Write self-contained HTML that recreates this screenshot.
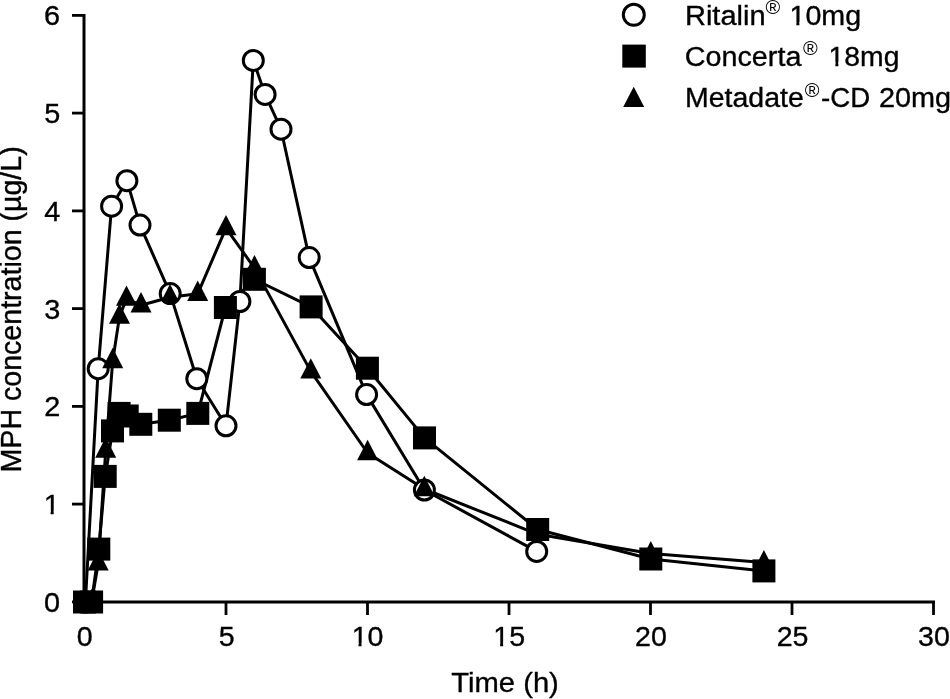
<!DOCTYPE html>
<html><head><meta charset="utf-8"><title>MPH concentration</title>
<style>
html,body{margin:0;padding:0;background:#fff;}
svg{display:block;}
text{font-family:"Liberation Sans",sans-serif;font-size:28px;fill:#000;stroke:#000;stroke-width:0.35;}
</style></head><body>
<svg width="950" height="699" viewBox="0 0 950 699">
<rect width="950" height="699" fill="#fff"/>
<defs><clipPath id="k1"><path d="M-5,-40H90V-3.5H-5Z M6.75,-4H9.65V5H6.75Z M15.6,-4H90V12H15.6Z"/></clipPath></defs>
<g id="axes">
<path d="M84,14 V602 H935" fill="none" stroke="#000" stroke-width="3" stroke-linejoin="miter"/>
<line x1="72" y1="601.9" x2="84" y2="601.9" stroke="#000" stroke-width="2.8"/>
<text transform="translate(44.09,612.10) scale(1.0300,1.0000)">0</text>
<line x1="72" y1="504.1" x2="84" y2="504.1" stroke="#000" stroke-width="2.8"/>
<text transform="translate(43.70,514.25) scale(1.0300,1.0000)" clip-path="url(#k1)">1</text>
<line x1="72" y1="406.4" x2="84" y2="406.4" stroke="#000" stroke-width="2.8"/>
<text transform="translate(44.22,416.40) scale(1.0300,1.0000)">2</text>
<line x1="72" y1="308.6" x2="84" y2="308.6" stroke="#000" stroke-width="2.8"/>
<text transform="translate(44.22,318.55) scale(1.0300,1.0000)">3</text>
<line x1="72" y1="210.9" x2="84" y2="210.9" stroke="#000" stroke-width="2.8"/>
<text transform="translate(44.22,220.70) scale(1.0300,1.0000)">4</text>
<line x1="72" y1="113.1" x2="84" y2="113.1" stroke="#000" stroke-width="2.8"/>
<text transform="translate(44.22,122.85) scale(1.0300,1.0000)">5</text>
<line x1="72" y1="15.4" x2="84" y2="15.4" stroke="#000" stroke-width="2.8"/>
<text transform="translate(44.09,25.00) scale(1.0300,1.0000)">6</text>
<line x1="226.0" y1="602" x2="226.0" y2="615" stroke="#000" stroke-width="2.8"/>
<line x1="367.5" y1="602" x2="367.5" y2="615" stroke="#000" stroke-width="2.8"/>
<line x1="509.0" y1="602" x2="509.0" y2="615" stroke="#000" stroke-width="2.8"/>
<line x1="650.5" y1="602" x2="650.5" y2="615" stroke="#000" stroke-width="2.8"/>
<line x1="792.0" y1="602" x2="792.0" y2="615" stroke="#000" stroke-width="2.8"/>
<line x1="933.5" y1="602" x2="933.5" y2="615" stroke="#000" stroke-width="2.8"/>
<text transform="translate(76.77,646.20) scale(1.0200,1.0000)">0</text>
<text transform="translate(218.69,646.20) scale(1.0200,1.0000)">5</text>
<text transform="translate(351.65,646.20) scale(1.0200,1.0000)" clip-path="url(#k1)">10</text>
<text transform="translate(493.28,646.20) scale(1.0200,1.0000)" clip-path="url(#k1)">15</text>
<text transform="translate(635.04,646.20) scale(1.0200,1.0000)">20</text>
<text transform="translate(776.66,646.20) scale(1.0200,1.0000)">25</text>
<text transform="translate(918.06,646.20) scale(1.0200,1.0000)">30</text>
<text transform="translate(451.28,692.40) scale(1.0430,1.0000)">Time (h)</text>
<text transform="translate(20.6,472.44) rotate(-90) scale(1.0212,1.07)">MPH concentration (µg/L)</text>
</g>
<g id="series">
<defs><clipPath id="c3"><circle cx="170.2" cy="293.6" r="11"/></clipPath></defs>
<polyline fill="none" stroke="#000" stroke-width="3.0" stroke-linejoin="round" points="85.4,602.0 98.2,368.7 111.6,206.2 126.9,180.7 140.0,225.1 170.2,293.6 196.8,378.7 226.0,425.8 239.9,301.5 253.3,60.4 265.1,94.4 281.0,129.2 309.2,257.6 366.6,394.6 424.4,490.0 536.7,551.4"/>
<polyline fill="none" stroke="#000" stroke-width="3.0" stroke-linejoin="round" points="84.5,602.0 91.6,602.0 98.8,549.1 105.2,476.4 112.5,430.9 119.1,413.4 127.2,416.0 140.8,424.3 169.3,420.2 197.8,413.4 225.4,307.5 254.4,279.3 311.1,306.9 367.4,368.2 424.5,437.9 537.7,529.5 650.8,559.0 763.9,570.9"/>
<polyline fill="none" stroke="#000" stroke-width="3.0" stroke-linejoin="round" points="84.5,602.0 91.6,602.0 98.2,563.4 105.7,450.5 112.7,361.0 119.5,316.6 126.5,298.6 141.0,305.3 170.0,297.3 197.7,293.8 226.0,228.1 254.5,268.1 310.8,371.4 367.6,453.0 424.3,489.0 537.7,534.3 650.8,553.5 763.9,562.6"/>
<circle cx="85.4" cy="602.0" r="10" fill="#fff" stroke="#000" stroke-width="3"/>
<circle cx="98.2" cy="368.7" r="10" fill="#fff" stroke="#000" stroke-width="3"/>
<circle cx="111.6" cy="206.2" r="10" fill="#fff" stroke="#000" stroke-width="3"/>
<circle cx="126.9" cy="180.7" r="10" fill="#fff" stroke="#000" stroke-width="3"/>
<circle cx="140.0" cy="225.1" r="10" fill="#fff" stroke="#000" stroke-width="3"/>
<circle cx="170.2" cy="293.6" r="10" fill="#fff" stroke="#000" stroke-width="3"/>
<circle cx="196.8" cy="378.7" r="10" fill="#fff" stroke="#000" stroke-width="3"/>
<circle cx="226.0" cy="425.8" r="10" fill="#fff" stroke="#000" stroke-width="3"/>
<circle cx="239.9" cy="301.5" r="10" fill="#fff" stroke="#000" stroke-width="3"/>
<circle cx="253.3" cy="60.4" r="10" fill="#fff" stroke="#000" stroke-width="3"/>
<circle cx="265.1" cy="94.4" r="10" fill="#fff" stroke="#000" stroke-width="3"/>
<circle cx="281.0" cy="129.2" r="10" fill="#fff" stroke="#000" stroke-width="3"/>
<circle cx="309.2" cy="257.6" r="10" fill="#fff" stroke="#000" stroke-width="3"/>
<circle cx="366.6" cy="394.6" r="10" fill="#fff" stroke="#000" stroke-width="3"/>
<circle cx="424.4" cy="490.0" r="10" fill="#fff" stroke="#000" stroke-width="3"/>
<circle cx="536.7" cy="551.4" r="10" fill="#fff" stroke="#000" stroke-width="3"/>
<rect x="73.0" y="590.5" width="23" height="23" fill="#000"/>
<rect x="80.1" y="590.5" width="23" height="23" fill="#000"/>
<rect x="87.3" y="537.6" width="23" height="23" fill="#000"/>
<rect x="93.7" y="464.9" width="23" height="23" fill="#000"/>
<rect x="101.0" y="419.4" width="23" height="23" fill="#000"/>
<rect x="107.6" y="401.9" width="23" height="23" fill="#000"/>
<rect x="115.7" y="404.5" width="23" height="23" fill="#000"/>
<rect x="129.3" y="412.8" width="23" height="23" fill="#000"/>
<rect x="157.8" y="408.7" width="23" height="23" fill="#000"/>
<rect x="186.3" y="401.9" width="23" height="23" fill="#000"/>
<rect x="213.9" y="296.0" width="23" height="23" fill="#000"/>
<rect x="242.9" y="267.8" width="23" height="23" fill="#000"/>
<rect x="299.6" y="295.4" width="23" height="23" fill="#000"/>
<rect x="355.9" y="356.7" width="23" height="23" fill="#000"/>
<rect x="413.0" y="426.4" width="23" height="23" fill="#000"/>
<rect x="526.2" y="518.0" width="23" height="23" fill="#000"/>
<rect x="639.3" y="547.5" width="23" height="23" fill="#000"/>
<rect x="752.4" y="559.4" width="23" height="23" fill="#000"/>
<polygon fill="#000" points="84.5,588.8 74.0,609.2 95.0,609.2"/>
<polygon fill="#000" points="91.6,588.8 81.1,609.2 102.1,609.2"/>
<polygon fill="#000" points="98.2,550.2 87.7,570.6 108.7,570.6"/>
<polygon fill="#000" points="105.7,437.3 95.2,457.7 116.2,457.7"/>
<polygon fill="#000" points="112.7,347.8 102.2,368.2 123.2,368.2"/>
<polygon fill="#000" points="119.5,303.4 109.0,323.8 130.0,323.8"/>
<polygon fill="#000" points="126.5,285.4 116.0,305.8 137.0,305.8"/>
<polygon fill="#000" points="141.0,292.1 130.5,312.5 151.5,312.5"/>
<polygon fill="#000" clip-path="url(#c3)" points="170.0,284.1 159.5,304.5 180.5,304.5"/>
<polygon fill="#000" points="197.7,280.6 187.2,301.0 208.2,301.0"/>
<polygon fill="#000" points="226.0,214.9 215.5,235.3 236.5,235.3"/>
<polygon fill="#000" points="254.5,254.9 244.0,275.3 265.0,275.3"/>
<polygon fill="#000" points="310.8,358.2 300.3,378.6 321.3,378.6"/>
<polygon fill="#000" points="367.6,439.8 357.1,460.2 378.1,460.2"/>
<polygon fill="#000" points="424.3,475.8 413.8,496.2 434.8,496.2"/>
<polygon fill="#000" points="537.7,519.8 527.2,540.2 548.2,540.2"/>
<polygon fill="#000" points="650.8,541.1 640.3,561.5 661.3,561.5"/>
<polygon fill="#000" points="763.9,550.0 753.4,570.4 774.4,570.4"/>
</g>
<g id="legend">
<circle cx="633.8" cy="14.8" r="10.5" fill="#fff" stroke="#000" stroke-width="3"/>
<rect x="622.3" y="44.6" width="23.5" height="23" fill="#000"/>
<polygon fill="#000" points="633.7,86.7 623.2,106.9 644.2,106.9"/>
<text transform="translate(684.93,25.40) scale(1.0370,1.0000)">Ritalin</text>
<text x="765.50" y="14.10" style="font-size:20px;stroke-width:0">®</text>
<text transform="translate(789.45,25.40) scale(1.0241,1.0000)" clip-path="url(#k1)">10mg</text>
<text transform="translate(684.82,65.60) scale(1.0258,1.0000)">Concerta</text>
<text x="802.90" y="54.80" style="font-size:20px;stroke-width:0">®</text>
<text transform="translate(828.58,65.60) scale(1.0120,1.0000)" clip-path="url(#k1)">18mg</text>
<text transform="translate(685.07,106.80) scale(1.0171,1.0000)">Metadate</text>
<text x="804.70" y="96.60" style="font-size:20px;stroke-width:0">®</text>
<text transform="translate(821.11,106.80) scale(0.9874,1.0000)">-CD</text>
<text transform="translate(879.01,106.80) scale(1.0300,1.0000)">20mg</text>
</g>
</svg>
</body></html>
